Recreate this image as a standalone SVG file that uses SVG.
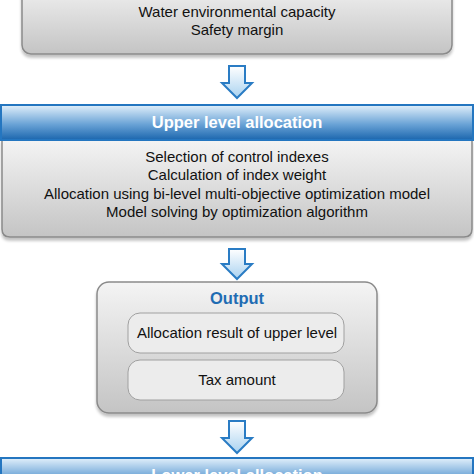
<svg xmlns="http://www.w3.org/2000/svg" width="474" height="474" viewBox="0 0 474 474">
<defs>
<linearGradient id="gGray" x1="0" y1="0" x2="0" y2="1">
<stop offset="0" stop-color="#f4f4f4"/>
<stop offset="1" stop-color="#c4c4c4"/>
</linearGradient>
<linearGradient id="gBlue" x1="0" y1="0" x2="0" y2="1">
<stop offset="0" stop-color="#e2f0fb"/>
<stop offset="0.55" stop-color="#6aa3d6"/>
<stop offset="1" stop-color="#1b66ae"/>
</linearGradient>
<linearGradient id="gArrow" x1="0" y1="0" x2="0" y2="1">
<stop offset="0" stop-color="#ffffff"/>
<stop offset="1" stop-color="#a9d2f0"/>
</linearGradient>
<filter id="sh" x="-5%" y="-5%" width="110%" height="115%">
<feGaussianBlur in="SourceAlpha" stdDeviation="1.5"/>
<feOffset dx="0" dy="3"/>
<feComponentTransfer><feFuncA type="linear" slope="0.25"/></feComponentTransfer>
<feMerge><feMergeNode/><feMergeNode in="SourceGraphic"/></feMerge>
</filter>
</defs>
<style>
.box{fill:url(#gGray);stroke:#8a8a8a;stroke-width:1.5}
.inner{fill:#ececec;stroke:#a0a0a0;stroke-width:1}
.hdr{fill:url(#gBlue);stroke:#2476c0;stroke-width:2}
.arrow{fill:url(#gArrow);stroke:#2a7cc4;stroke-width:2;stroke-linejoin:miter}
.t{font-family:"Liberation Sans",Arial,sans-serif;font-size:15px;fill:#111111;text-anchor:middle}
.ht{font-family:"Liberation Sans",Arial,sans-serif;font-size:16.5px;font-weight:bold;fill:#ffffff;text-anchor:middle}
.ot{font-family:"Liberation Sans",Arial,sans-serif;font-size:16.5px;font-weight:bold;fill:#1f6cb3;text-anchor:middle}
</style>
<rect width="474" height="474" fill="#ffffff"/>

<g id="input">
<rect class="box" x="22" y="-20" width="430" height="74" rx="9" filter="url(#sh)"/>
<text class="t" x="237" y="17">Water environmental capacity</text>
<text class="t" x="237" y="35">Safety margin</text>
</g>

<g id="upper-level-allocation">
<path class="box" d="M2,140 H472 V229 Q472,237 464,237 H10 Q2,237 2,229 Z" filter="url(#sh)"/>
<rect class="hdr" x="1" y="105" width="472" height="35"/>
<text class="ht" x="237" y="128">Upper level allocation</text>
<text class="t" x="237" y="162">Selection of control indexes</text>
<text class="t" x="237" y="180">Calculation of index weight</text>
<text class="t" x="237" y="199">Allocation using bi-level multi-objective optimization model</text>
<text class="t" x="237" y="217">Model solving by optimization algorithm</text>
</g>

<g id="output">
<rect class="box" x="97" y="282" width="280" height="131" rx="12" filter="url(#sh)"/>
<text class="ot" x="237" y="304">Output</text>
<g id="allocation-result">
<rect class="inner" x="128" y="313" width="216" height="40" rx="12"/>
<text class="t" x="237" y="338">Allocation result of upper level</text>
</g>
<g id="tax-amount">
<rect class="inner" x="128" y="360" width="216" height="40" rx="12"/>
<text class="t" x="237" y="385">Tax amount</text>
</g>
</g>

<g id="lower-level-allocation">
<rect class="hdr" x="1" y="458" width="472" height="35"/>
<text class="ht" x="237" y="481">Lower level allocation</text>
</g>

<g id="connectors">
<path class="arrow" d="M229,66 H245 V83 H252 L237,98 L222,83 H229 Z"/>
<path class="arrow" d="M229,249 H245 V264 H252 L237,279 L222,264 H229 Z"/>
<path class="arrow" d="M229,421 H245 V438 H252 L237,453 L222,438 H229 Z"/>
</g>
</svg>
